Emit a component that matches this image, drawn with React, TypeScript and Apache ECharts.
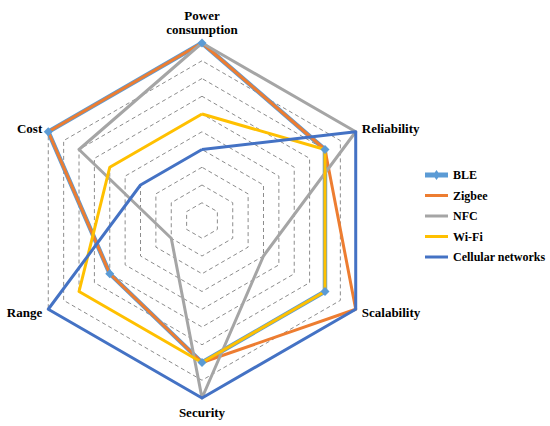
import React, { useEffect, useRef } from "react";
import * as echarts from "echarts";

const indicators = ["Power\nconsumption", "Cost", "Range", "Security", "Scalability", "Reliability"];
const seriesNames = ["BLE", "Zigbee", "NFC", "Wi-Fi", "Cellular networks"];
const bleValues = [10, 10, 6, 8, 8, 8];
const zigbeeValues = [10, 10, 6, 8, 10, 8];
const nfcValues = [10, 8, 2, 10, 4, 10];
const wifiValues = [6, 6, 8, 8, 8, 8];
const cellularValues = [4, 4, 10, 10, 10, 10];
const maxValue = 10;

const colors = ["#5B9BD5", "#ED7D31", "#A5A5A5", "#FFC000", "#4472C4"];
const lineWidths = [4.5, 3, 3, 3, 3];
const allValues = [bleValues, zigbeeValues, nfcValues, wifiValues, cellularValues];

const LINE_ICON = "path://M0,0M23,12M0,4.5L23,4.5L23,7.5L0,7.5Z";
const BLE_ICON = "path://M0,0M23,12M0,3.5L23,3.5L23,8.5L0,8.5Z M11.5,1L15,6L11.5,11L8,6Z";

export default function App() {
  const ref = useRef<HTMLDivElement>(null);
  useEffect(() => {
    if (!ref.current) return;
    const chart = echarts.init(ref.current, null, { renderer: "svg" });
    const font = "Liberation Serif";
    chart.setOption({
      animation: false,
      backgroundColor: "#ffffff",
      textStyle: { fontFamily: font },
      legend: {
        orient: "vertical",
        left: 425,
        top: 169,
        padding: 0,
        itemWidth: 23,
        itemHeight: 12,
        itemGap: 8.5,
        textStyle: { fontFamily: font, fontWeight: "bold", fontSize: 12, color: "#000" },
        data: seriesNames.map((n, i) => ({
          name: n,
          icon: i === 0 ? BLE_ICON : LINE_ICON,
          itemStyle: { color: colors[i], borderWidth: 0 },
        })),
      },
      radar: {
        center: [202, 220.5],
        radius: 177.5,
        startAngle: 90,
        splitNumber: 10,
        shape: "polygon",
        nameGap: 7,
        axisName: {
          color: "#000",
          fontFamily: font,
          fontWeight: "bold",
          fontSize: 13,
          lineHeight: 14,
        },
        indicator: indicators.map((name) => ({ name, max: maxValue, min: 0 })),
        axisLine: { show: false },
        axisTick: { show: false },
        axisLabel: { show: false },
        splitArea: { show: false },
        splitLine: {
          lineStyle: { color: "#8c8c8c", width: 1, type: [4, 3] },
        },
      },
      series: [
        {
          type: "radar",
          data: seriesNames.map((n, i) => ({
            name: n,
            value: allValues[i],
            symbol: i === 0 ? "diamond" : "none",
            symbolSize: 9,
            itemStyle: { color: colors[i] },
            lineStyle: { color: colors[i], width: lineWidths[i] },
          })),
        },
      ],
    });
    return () => chart.dispose();
  }, []);
  return (
    <div
      ref={ref}
      style={{ position: "fixed", left: 0, top: 0, width: 550, height: 426, background: "#fff" }}
    />
  );
}
